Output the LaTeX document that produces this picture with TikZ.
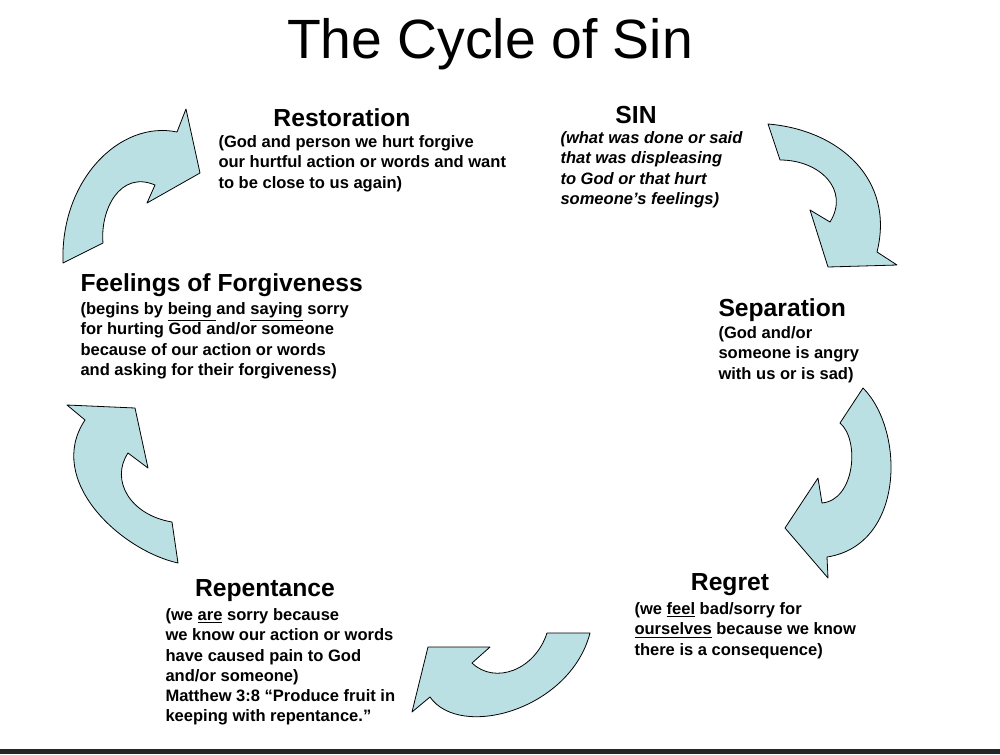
\documentclass[tikz,border=0pt]{standalone}
\usepackage{fontspec}
\setmainfont{Liberation Sans}
\definecolor{arrowblue}{RGB}{187,224,228}
\tikzset{every picture/.style={line width=0.75pt}}
\tikzset{
  bentarrow/.style={draw=black, line width=0.6pt, fill=arrowblue, line join=round},
  heading/.style={inner sep=0pt, font=\fontsize{18.5}{21}\selectfont\bfseries},
  bodytext/.style={inner sep=0pt, anchor=north west, align=left, font=\fontsize{12.4}{15.2}\selectfont\bfseries}
}
\begin{document}
\begin{tikzpicture}[x=0.75pt,y=0.75pt,yscale=-1]
\useasboundingbox (0,0) rectangle (1000,754);
%title
\node[inner sep=0pt, font=\fontsize{41.5}{46}\selectfont] (title) at (490,44) {The Cycle of Sin};
%bottom bar
\fill[black!85] (0,749) rectangle (1000,754);
%Arrow: restoration
\draw[bentarrow] (63,263) .. controls (60,180) and (120,120) .. (177,132) -- (186,109) -- (200,173) -- (147,203) -- (155,185) .. controls (120,170) and (100,210) .. (103,243) -- cycle;
%Arrow: sin
\draw[bentarrow] (768,124) .. controls (840,130) and (895,180) .. (877,252) -- (897,265) -- (828,267) -- (810,210) -- (830,222) .. controls (850,190) and (820,160) .. (780,160) -- cycle;
%Arrow: separation
\draw[bentarrow] (863,388) .. controls (905,430) and (905,545) .. (827,557) -- (828,578) -- (785,528) -- (818,478) -- (822,503) .. controls (855,500) and (860,440) .. (840,423) -- cycle;
%Arrow: regret
\draw[bentarrow] (590,633) .. controls (570,710) and (460,740) .. (430,697) -- (412,712) -- (428,647) -- (490,647) -- (472,663) .. controls (495,685) and (535,670) .. (547,633) -- cycle;
%Arrow: repentance
\draw[bentarrow] (178,563) .. controls (120,550) and (45,480) .. (85,420) -- (67,405) -- (135,408) -- (148,468) -- (128,453) .. controls (110,480) and (130,515) .. (172,522) -- cycle;
%Restoration
\node[heading] (resthead) at (342,118) {Restoration};
\node[bodytext] (resttext) at (218,135) {(God and person we hurt forgive\\our hurtful action or words and want\\to be close to us again)};
%Sin
\node[heading] (sinhead) at (636,115) {SIN};
\node[bodytext, font=\fontsize{12.4}{15.2}\selectfont\bfseries\itshape] (sintext) at (560,131) {(what was done or said\\that was displeasing\\to God or that hurt\\someone’s feelings)};
%Separation
\node[heading, anchor=west] (sephead) at (718,310) {Separation};
\node[bodytext] (septext) at (718,326) {(God and/or\\someone is angry\\with us or is sad)};
%Regret
\node[heading] (reghead) at (730,585) {Regret};
\node[bodytext] (regtext) at (634,602) {(we \underline{feel} bad/sorry for\\\underline{ourselves} because we know\\there is a consequence)};
%Repentance
\node[heading] (rephead) at (265,591) {Repentance};
\node[bodytext] (reptext) at (165,608) {(we \underline{are} sorry because\\we know our action or words\\have caused pain to God\\and/or someone)\\Matthew 3:8 “Produce fruit in\\keeping with repentance.”};
%Feelings of forgiveness
\node[heading, anchor=west] (forghead) at (80,285) {Feelings of Forgiveness};
\node[bodytext] (forgtext) at (80,302) {(begins by \underline{being\ }and \underline{saying} sorry\\for hurting God and/or someone\\because of our action or words\\and asking for their forgiveness)};
\end{tikzpicture}
\end{document}
